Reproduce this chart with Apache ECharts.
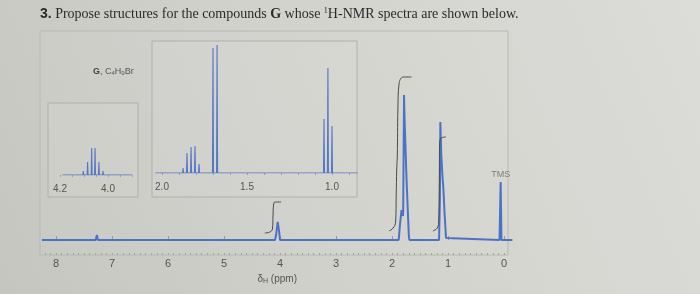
<!DOCTYPE html>
<html>
<head>
<meta charset="utf-8">
<script src="https://cdn.jsdelivr.net/npm/echarts@6/dist/echarts.min.js"></script>
<style>
html,body{margin:0;padding:0;background:#d2d2cc;}
#chart{width:700px;height:294px;}
</style>
</head>
<body>
<div id="chart"></div>
<script>
// ---------- data ----------
// main spectrum profile: [ppm, intensity]
var mainSpectrum = [
  [8.25,0],[7.29,0],[7.27,5],[7.25,0],
  [4.09,0],[4.07,5],[4.05,14],[4.04,18],[4.03,17],[4.015,8],[4.0,0],
  [1.88,0],[1.86,14],[1.845,22],[1.83,30],[1.815,32],[1.805,24],[1.80,30],
  [1.785,145],[1.775,120],[1.74,60],[1.70,5],[1.69,0],
  [1.16,0],[1.145,40],[1.137,118],[1.12,85],[1.095,60],[1.084,53],[1.06,25],[1.035,2],[1.02,0],
  [0.08,0],[0.06,58],[0.045,0],[-0.15,0]
];
var tmsPeak = [0.06, 58];
// integral traces: [ppm, integral]
var integral1 = [[4.27,7],[4.18,8],[4.135,11],[4.125,24],[4.115,35],[4.09,38],[3.98,38]];
var integral2 = [[2.05,9],[1.98,12],[1.935,18],[1.925,45],[1.916,70],[1.905,85],[1.895,130],[1.875,156],[1.80,163],[1.65,163]];
var integral3 = [[1.27,9],[1.19,12],[1.165,20],[1.155,60],[1.15,95],[1.12,102],[1.04,103]];
// inset 1 (4.2 - 3.9 ppm) stick peaks: [ppm, height]
var inset1Peaks = [[4.12,1],[4.103,4],[4.085,13],[4.068,27],[4.054,27],[4.038,13],[4.021,4],[4.005,1]];
// inset 2 (2.0 - 0.85 ppm) stick peaks
var inset2Peaks = [[1.876,5],[1.853,20],[1.829,26],[1.806,27],[1.782,9],[1.70,125],[1.676,128],[1.047,54],[1.024,105],[1.00,47]];
// tick labels
var mainTickLabels = [0,1,2,3,4,5,6,7,8];
var inset1TickLabels = [4.2, 4.0];
var inset2TickLabels = [2.0, 1.5, 1.0];

// ---------- helpers (build line tables from the arrays) ----------
function sticks(peaks, lo, hi, w){
  var s = peaks.slice().sort(function(a,b){return b[0]-a[0];});
  var out = [[hi,0]];
  s.forEach(function(p){ out.push([p[0]+w,0],[p[0],p[1]],[p[0]-w,0]); });
  out.push([lo,0]);
  return out;
}
function steps(a,b,st){ var r=[]; for(var v=a; v<=b+1e-9; v+=st){ r.push(Math.round(v*100)/100); } return r; }

var BLUE = '#4c72c6';
var BLUE2 = '#5577c4';
var GRAYTXT = '#555';
var chart = echarts.init(document.getElementById('chart'), null, {renderer:'canvas'});

var option = {
  animation:false,
  backgroundColor:{type:'linear',x:0,y:1,x2:1,y2:0,colorStops:[{offset:0,color:'#c6c6c0'},{offset:0.5,color:'#d3d3ce'},{offset:1,color:'#dcdcd8'}]},
  title:{
    left:40, top:7, padding:0,
    text:'{n|3.} Propose structures for the compounds {g|G} whose {s|1}H-NMR spectra are shown below.',
    textStyle:{
      fontFamily:'Liberation Serif', fontSize:14, fontWeight:'normal', color:'#2a2a2a',
      rich:{
        n:{fontFamily:'Liberation Sans', fontWeight:'bold', fontSize:14, color:'#2a2a2a'},
        g:{fontFamily:'Liberation Serif', fontWeight:'bold', fontSize:14, color:'#2a2a2a'},
        s:{fontFamily:'Liberation Serif', fontSize:8, color:'#2a2a2a', verticalAlign:'top', padding:[0,0,6,0]}
      }
    }
  },
  graphic:[
    {type:'rect', z:-1, shape:{x:40,y:31,width:468,height:224}, style:{fill:'rgba(255,255,255,0.04)', stroke:'#b9b9b4', lineWidth:1}},
    {type:'rect', z:-1, shape:{x:48,y:103,width:90,height:94}, style:{fill:'rgba(255,255,255,0.06)', stroke:'#b0b0ab', lineWidth:1}},
    {type:'rect', z:-1, shape:{x:152,y:41,width:205,height:156}, style:{fill:'rgba(255,255,255,0.06)', stroke:'#b0b0ab', lineWidth:1}},
    {type:'text', left:93, top:67, style:{
      text:'{b|G}, C{sub|4}H{sub|9}Br',
      font:'9px Liberation Sans', fill:'#555',
      rich:{b:{fontWeight:'bold', fontSize:9, fill:'#444', fontFamily:'Liberation Sans'}, sub:{fontSize:6, fontFamily:'Liberation Sans', verticalAlign:'bottom', padding:[4,0,0,0]}}
    }}
  ],
  grid:[
    {left:42, width:470.4, top:40, height:200},     // main
    {left:57.6, width:74.4, top:115, height:60},    // inset 1
    {left:155.2, width:202.3, top:38, height:135}   // inset 2
  ],
  xAxis:[
    {gridIndex:0, type:'value', inverse:true, min:-0.15, max:8.25, position:'bottom', offset:15,
     axisLine:{show:false}, splitLine:{show:false},
     axisTick:{show:true, inside:true, length:4, lineStyle:{color:'#9a9a96'}, customValues:mainTickLabels},
     axisLabel:{show:true, customValues:mainTickLabels, margin:3, color:GRAYTXT, fontSize:11, fontFamily:'Liberation Sans'},
     name:'{a|δ}{sub|H}{a| (ppm)}', nameLocation:'middle', nameGap:19,
     nameTextStyle:{color:GRAYTXT, fontSize:10, fontFamily:'Liberation Sans',
       rich:{a:{fontSize:10, color:GRAYTXT, fontFamily:'Liberation Sans'}, sub:{fontSize:7, color:GRAYTXT, verticalAlign:'bottom', padding:[4,0,0,0]}}}
    },
    {gridIndex:0, type:'value', inverse:true, min:-0.15, max:8.25, position:'bottom', offset:15,
     axisLine:{show:false}, splitLine:{show:false}, axisLabel:{show:false},
     axisTick:{show:true, inside:true, length:2, lineStyle:{color:'#a5a5a0'}, customValues:steps(0,8.2,0.1)}
    },
    {gridIndex:1, type:'value', inverse:true, min:3.9, max:4.21,
     axisLine:{show:false}, splitLine:{show:false},
     axisTick:{show:true, length:2, lineStyle:{color:'#a0a09b'}, customValues:steps(3.9,4.2,0.05)},
     axisLabel:{show:true, customValues:inset1TickLabels, formatter:function(v){return v.toFixed(1);}, margin:9, color:GRAYTXT, fontSize:10, fontFamily:'Liberation Sans'}
    },
    {gridIndex:2, type:'value', inverse:true, min:0.85, max:2.04,
     axisLine:{show:false}, splitLine:{show:false},
     axisTick:{show:true, length:2, lineStyle:{color:'#a0a09b'}, customValues:steps(0.9,2.0,0.1)},
     axisLabel:{show:true, customValues:inset2TickLabels, formatter:function(v){return v.toFixed(1);}, margin:9, color:GRAYTXT, fontSize:10, fontFamily:'Liberation Sans'}
    }
  ],
  yAxis:[
    {gridIndex:0, type:'value', min:0, max:200, show:false},
    {gridIndex:1, type:'value', min:0, max:60, show:false},
    {gridIndex:2, type:'value', min:0, max:135, show:false}
  ],
  series:[
    {type:'line', xAxisIndex:0, yAxisIndex:0, data:mainSpectrum, symbol:'none', lineStyle:{color:BLUE, width:2},
     markPoint:{symbol:'circle', symbolSize:0, silent:true,
       label:{show:true, position:'top', distance:3, formatter:'TMS', color:'#7d7d7a', fontSize:9, fontFamily:'Liberation Sans'},
       data:[{coord:tmsPeak}]}
    },
    {type:'line', xAxisIndex:0, yAxisIndex:0, data:integral1, symbol:'none', smooth:0.4, lineStyle:{color:'#4a4a48', width:1}},
    {type:'line', xAxisIndex:0, yAxisIndex:0, data:integral2, symbol:'none', smooth:0.4, lineStyle:{color:'#4a4a48', width:1}},
    {type:'line', xAxisIndex:0, yAxisIndex:0, data:integral3, symbol:'none', smooth:0.4, lineStyle:{color:'#4a4a48', width:1}},
    {type:'line', xAxisIndex:2, yAxisIndex:1, data:sticks(inset1Peaks, 3.9, 4.19, 0.002), symbol:'none', lineStyle:{color:BLUE2, width:1.1}},
    {type:'line', xAxisIndex:3, yAxisIndex:2, data:sticks(inset2Peaks, 0.85, 2.04, 0.003), symbol:'none', lineStyle:{color:BLUE2, width:1.1}}
  ]
};
chart.setOption(option);
</script>
</body>
</html>
